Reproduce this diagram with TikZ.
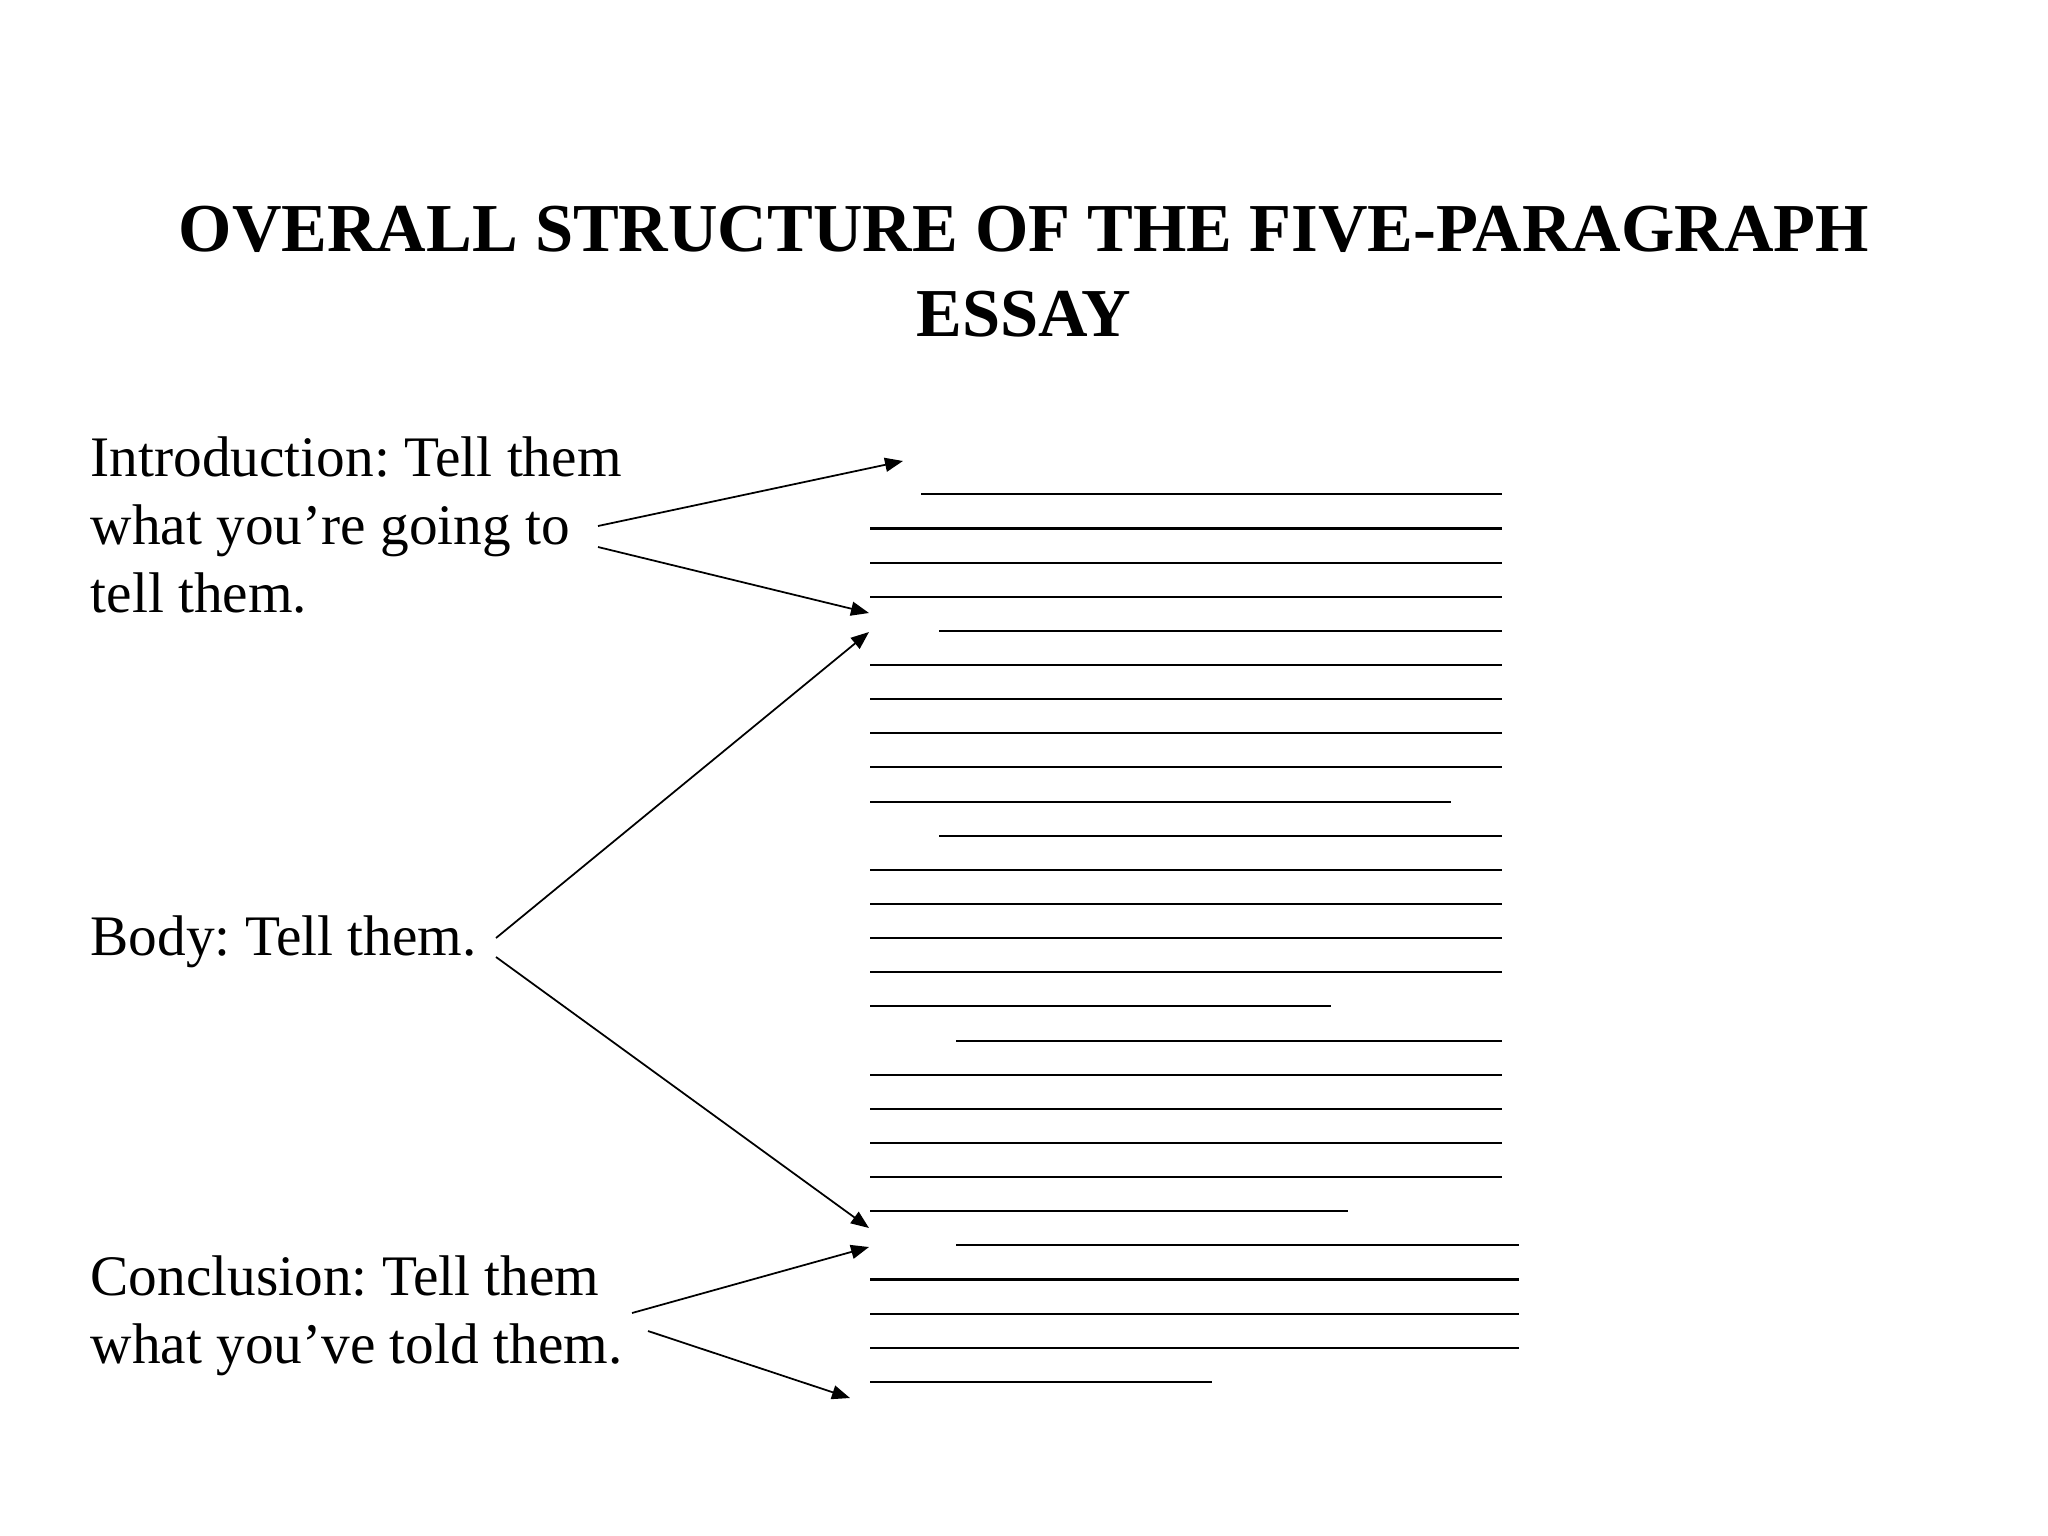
\documentclass[tikz,border=0pt]{standalone}
\usepackage{fontspec}
\setmainfont{Liberation Serif}
\usetikzlibrary{arrows.meta,positioning}
\frenchspacing

\tikzset{
  heading/.style={font=\fontsize{19.5}{24.1}\selectfont\bfseries,align=center,anchor=base,inner sep=0pt},
  part/.style={font=\fontsize{16.3}{19.2}\selectfont,align=left,anchor=base west,inner sep=0pt},
  ruled/.style={line width=0.6pt},
  pointer/.style={line width=0.5pt,-{Triangle[length=1.8mm,width=1.4mm]}}
}

\begin{document}
\begin{tikzpicture}[x=0.01cm,y=-0.01cm]
  % page frame
  \useasboundingbox (0,0) rectangle (2048,1536);

  % title, two lines centred (base = last line)
  \node[heading] (title) at (1024,336) {OVERALL STRUCTURE OF THE FIVE-PARAGRAPH\\ESSAY};

  % the three parts on the left
  \node[part] (intro) at (90,612) {Introduction: Tell them\\what you’re going to\\tell them.};
  \node[part] (body) at (90,955) {Body: Tell them.};
  \node[part] (concl) at (90,1363) {Conclusion: Tell them\\what you’ve told them.};

  % ruled lines of the essay: row / start / end
  \foreach \row/\from/\to in {1/921/1502, 2/870/1502, 3/870/1502, 4/870/1502,
      5/939/1502, 6/870/1502, 7/870/1502, 8/870/1502, 9/870/1502, 10/870/1451,
      11/939/1502, 12/870/1502, 13/870/1502, 14/870/1502, 15/870/1502, 16/870/1331,
      17/956/1502, 18/870/1502, 19/870/1502, 20/870/1502, 21/870/1502, 22/870/1348,
      23/956/1519, 24/870/1519, 25/870/1519, 26/870/1519, 27/870/1212}
    \draw[ruled] (\from,{494.3+(\row-1)*34.14}) -- (\to,{494.3+(\row-1)*34.14});

  % ends of the arrows
  \coordinate (introA) at (598,526);
  \coordinate (introB) at (598,547);
  \coordinate (bodyA) at (496,938);
  \coordinate (bodyB) at (496,957);
  \coordinate (conclA) at (632,1313);
  \coordinate (conclB) at (648,1331);
  \coordinate (introtop) at (903,461);
  \coordinate (introend) at (869,613);
  \coordinate (bodytop) at (869,632);
  \coordinate (bodyend) at (869,1228);
  \coordinate (concltop) at (869,1247);
  \coordinate (conclend) at (850,1398);

  % arrows from each part to where it starts and ends
  \draw[pointer] (introA) -- (introtop);
  \draw[pointer] (introB) -- (introend);
  \draw[pointer] (bodyA) -- (bodytop);
  \draw[pointer] (bodyB) -- (bodyend);
  \draw[pointer] (conclA) -- (concltop);
  \draw[pointer] (conclB) -- (conclend);
\end{tikzpicture}
\end{document}
